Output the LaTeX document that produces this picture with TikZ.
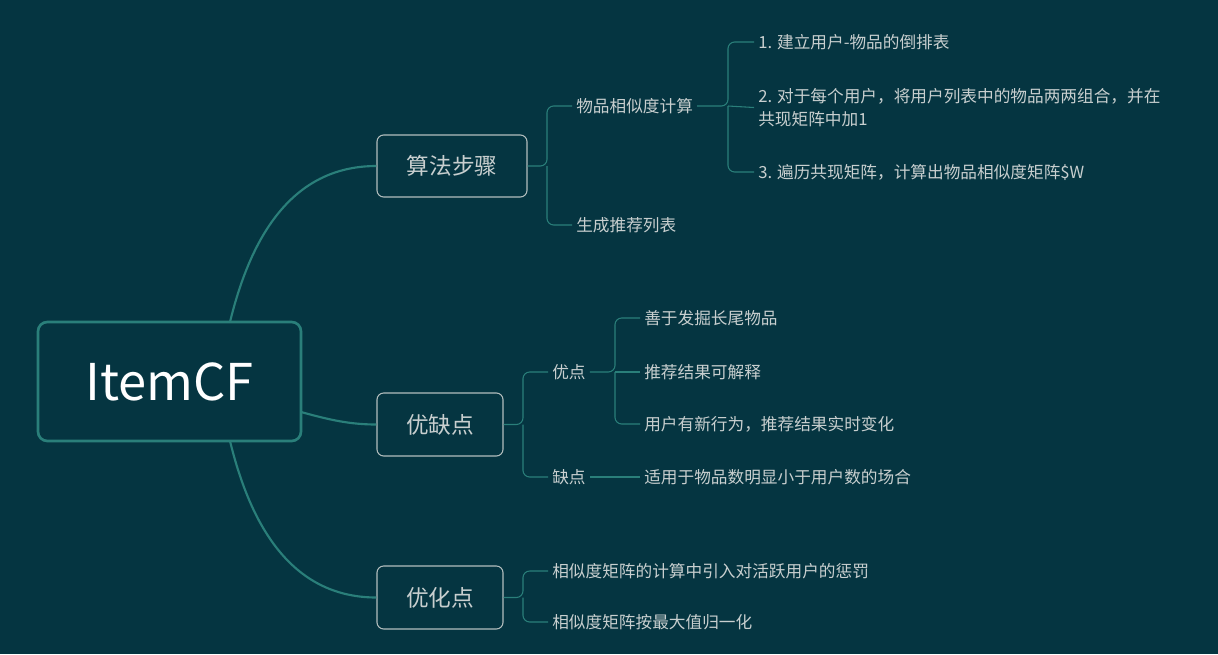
\documentclass[tikz,border=0pt]{standalone}
\usepackage{fontspec}
\setmainfont{Noto Sans CJK SC}
\begin{document}
\begin{tikzpicture}[x=0.75pt,y=-0.75pt,
  conn/.style={draw=cline,line width=0.8pt,rounded corners=5pt},
  big/.style={draw=cline,line width=1.6pt},
  lvl/.style={draw=boxline,line width=0.8pt,rounded corners=5pt,text=txt,font=\fontsize{17}{20}\selectfont,inner sep=0pt},
  leaf/.style={anchor=west,text=txt,font=\fontsize{12.5}{17}\selectfont,inner sep=3pt,align=left}]
\definecolor{bg}{HTML}{053541}
\definecolor{cline}{HTML}{2A7F7A}
\definecolor{boxline}{HTML}{B4BEBE}
\definecolor{txt}{HTML}{C8CFCF}
\fill[bg] (0,0) rectangle (1218,654);
\useasboundingbox (0,0) rectangle (1218,654);
\node[draw=cline,line width=2pt,rounded corners=7pt,minimum width=263*0.75pt,minimum height=119*0.75pt,text=white,font=\fontsize{38}{40}\selectfont] (root) at (169.5,381.5) {ItemCF};
\node[lvl,minimum width=150*0.75pt,minimum height=62*0.75pt] (a) at (452,166) {算法步骤};
\node[lvl,minimum width=126*0.75pt,minimum height=63*0.75pt] (b) at (440,424.5) {优缺点};
\node[lvl,minimum width=126*0.75pt,minimum height=63*0.75pt] (c) at (440,597.5) {优化点};
\coordinate (rt) at (230,322); \coordinate (rb) at (230,441); \coordinate (rr) at (301,412);
\draw[big] (rt) .. controls (250,240) and (290,166) .. (a.west);
\draw[big] (rr) .. controls (330,420) and (350,424.5) .. (b.west);
\draw[big] (rb) .. controls (250,523) and (290,597.5) .. (c.west);
% level 2
\node[leaf] (a1) at (572,106) {物品相似度计算};
\node[leaf] (a2) at (572,225) {生成推荐列表};
\node[leaf] (a11) at (754,42) {1. 建立用户-物品的倒排表};
\node[leaf] (a12) at (754,107.5) {2. 对于每个用户，将用户列表中的物品两两组合，并在\\共现矩阵中加1};
\node[leaf] (a13) at (754,172) {3. 遍历共现矩阵，计算出物品相似度矩阵\$W};
\node[leaf] (b1) at (548,372) {优点};
\node[leaf] (b2) at (548,477) {缺点};
\node[leaf] (b11) at (640,318) {善于发掘长尾物品};
\node[leaf] (b12) at (640,372) {推荐结果可解释};
\node[leaf] (b13) at (640,424) {用户有新行为，推荐结果实时变化};
\node[leaf] (b21) at (640,477) {适用于物品数明显小于用户数的场合};
\node[leaf] (c1) at (548,571) {相似度矩阵的计算中引入对活跃用户的惩罚};
\node[leaf] (c2) at (548,622) {相似度矩阵按最大值归一化};
\coordinate (ja) at (547,166); \coordinate (ja1) at (728,106);
\coordinate (jb) at (523,424.5); \coordinate (jb1) at (615,372);
\coordinate (jc) at (523,597.5);
\draw[conn] (a.east) -- (ja) |- (a1.west); \draw[conn] (ja) |- (a2.west);
\draw[conn] (a1.east) -- (ja1) |- (a11.west); \draw[conn] (ja1) |- (a13.west); \draw[conn] (ja1) -- (a12.west);
\draw[conn] (b.east) -- (jb) |- (b1.west); \draw[conn] (jb) |- (b2.west);
\draw[conn] (b1.east) -- (jb1) |- (b11.west); \draw[conn] (jb1) |- (b13.west); \draw[conn] (jb1) -- (b12.west);
\draw[conn] (b2.east) -- (b21.west);
\draw[conn] (c.east) -- (jc) |- (c1.west); \draw[conn] (jc) |- (c2.west);
\end{tikzpicture}
\end{document}
